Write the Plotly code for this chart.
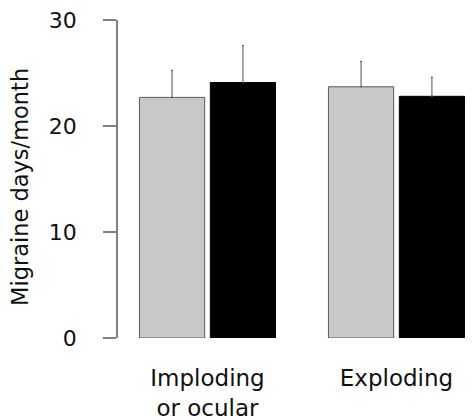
import plotly.graph_objects as go

categories = ["Imploding<br>or ocular", "Exploding"]
gray_values = [22.7, 23.7]
gray_errors = [2.55, 2.4]
black_values = [24.1, 22.8]
black_errors = [3.5, 1.8]
y_ticks = [0, 10, 20, 30]

font_family = "DejaVu Sans, Verdana, sans-serif"

fig = go.Figure()
fig.add_trace(go.Bar(
    x=categories, y=gray_values,
    marker=dict(color="#c8c8c8", line=dict(color="#5a5a5a", width=1)),
    error_y=dict(type="data", array=gray_errors, arrayminus=[0, 0], symmetric=False,
                 color="#505050", thickness=1, width=1),
    showlegend=False,
))
fig.add_trace(go.Bar(
    x=categories, y=black_values,
    marker=dict(color="#000000", line=dict(color="#000000", width=1)),
    error_y=dict(type="data", array=black_errors, arrayminus=[0, 0], symmetric=False,
                 color="#505050", thickness=1, width=1),
    showlegend=False,
))

fig.update_layout(
    width=474, height=420,
    margin=dict(l=118, r=0, t=20, b=82),
    paper_bgcolor="white", plot_bgcolor="white",
    barmode="group", bargap=0.25, bargroupgap=0.08,
    font=dict(family=font_family, size=22, color="#111111"),
    xaxis=dict(
        type="category", range=[-0.4735, 1.4101],
        showline=False, showgrid=False, zeroline=False, ticks="",
        ticklabelstandoff=24,
        tickfont=dict(size=23),
    ),
    yaxis=dict(
        range=[0, 30], tickvals=y_ticks,
        showline=True, linecolor="#808080", linewidth=1.5,
        ticks="outside", ticklen=13, tickcolor="#808080", tickwidth=1.5,
        showgrid=False, zeroline=False,
        ticklabelstandoff=22,
        tickfont=dict(size=22),
    ),
    annotations=[dict(
        text="Migraine days/month", textangle=-90,
        xref="paper", yref="paper", x=-0.2753, y=0.4748,
        xanchor="center", yanchor="middle", showarrow=False,
        font=dict(size=22.5),
    )],
)

fig.write_html("out.html")
